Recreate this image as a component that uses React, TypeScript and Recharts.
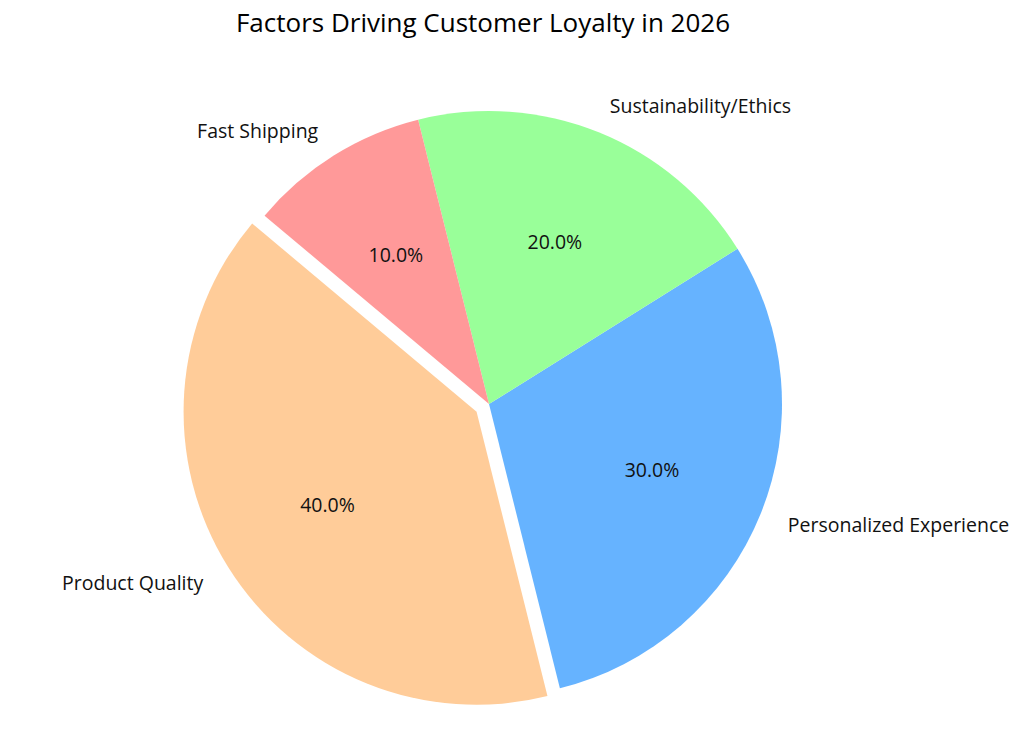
import { Pie, PieChart, Cell } from "recharts";

const factors = ["Product Quality", "Personalized Experience", "Sustainability/Ethics", "Fast Shipping"];
const shares = [40, 30, 20, 10];
const colors = ["#ffcc99", "#66b3ff", "#99ff99", "#ff9999"];
const explodedIndex = 0;

const data = factors.map((name, i) => ({ name, value: shares[i] }));

const W = 1024;
const H = 749;
const CX = 489;
const CY = 404;
const R = 293;
const START = 140;
const RADIAN = Math.PI / 180;
const FONT = "'Open Sans', sans-serif";

const total = shares.reduce((a, b) => a + b, 0);
const before = shares.slice(0, explodedIndex).reduce((a, b) => a + b, 0);
const explodeMid = START + ((before + shares[explodedIndex] / 2) / total) * 360;
const explodeCx = CX + 0.05 * R * Math.cos(explodeMid * RADIAN);
const explodeCy = CY - 0.05 * R * Math.sin(explodeMid * RADIAN);

function makeLabel(show: (i: number) => boolean) {
  return (props: any) => {
    const { cx, cy, midAngle, outerRadius, index, percent, name } = props;
    if (!show(index)) return null;
    const cos = Math.cos(midAngle * RADIAN);
    const sin = Math.sin(midAngle * RADIAN);
    const lx = cx + outerRadius * 1.1 * cos;
    const ly = cy - outerRadius * 1.1 * sin;
    const px = cx + outerRadius * 0.6 * cos;
    const py = cy - outerRadius * 0.6 * sin;
    return (
      <g>
        <text
          x={lx}
          y={ly}
          textAnchor={cos >= 0 ? "start" : "end"}
          dominantBaseline="central"
          fontSize={19.5}
          fontFamily={FONT}
          fill="#111"
        >
          {name}
        </text>
        <text
          x={px}
          y={py}
          textAnchor="middle"
          dominantBaseline="central"
          fontSize={19.5}
          fontFamily={FONT}
          fill="#111"
        >
          {(percent * 100).toFixed(1)}%
        </text>
      </g>
    );
  };
}

export default function App() {
  return (
    <div style={{ position: "absolute", left: 0, top: 0, width: W, height: H, background: "#fff" }}>
      <PieChart width={W} height={H} margin={{ top: 0, right: 0, bottom: 0, left: 0 }}>
        <text
          x={483}
          y={22}
          textAnchor="middle"
          dominantBaseline="central"
          fontSize={26}
          fontFamily={FONT}
          fill="#000"
        >
          Factors Driving Customer Loyalty in 2026
        </text>
        <Pie
          data={data}
          dataKey="value"
          nameKey="name"
          cx={CX}
          cy={CY}
          outerRadius={R}
          startAngle={START}
          endAngle={START + 360}
          stroke="none"
          labelLine={false}
          label={makeLabel((i) => i !== explodedIndex)}
          isAnimationActive={false}
        >
          {data.map((d, i) => (
            <Cell key={d.name} fill={i === explodedIndex ? "transparent" : colors[i]} />
          ))}
        </Pie>
        <Pie
          data={data}
          dataKey="value"
          nameKey="name"
          cx={explodeCx}
          cy={explodeCy}
          outerRadius={R}
          startAngle={START}
          endAngle={START + 360}
          stroke="none"
          labelLine={false}
          label={makeLabel((i) => i === explodedIndex)}
          isAnimationActive={false}
        >
          {data.map((d, i) => (
            <Cell key={d.name} fill={i === explodedIndex ? colors[i] : "transparent"} />
          ))}
        </Pie>
      </PieChart>
    </div>
  );
}
